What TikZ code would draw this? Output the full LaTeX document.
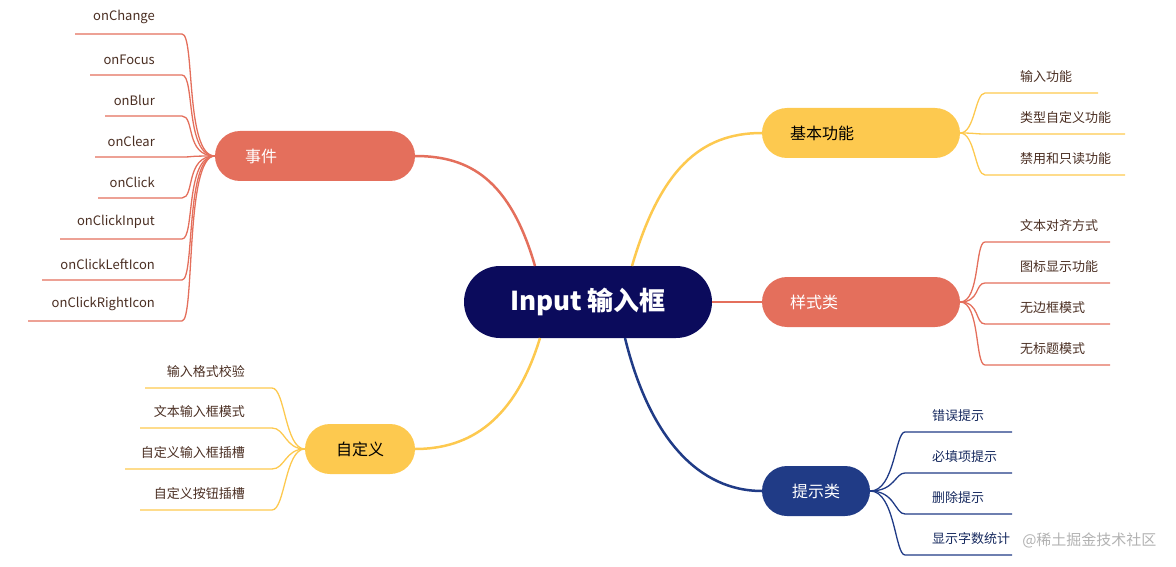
\documentclass[tikz,border=0pt]{standalone}
\usepackage{fontspec}
\setmainfont{Noto Sans CJK SC}
\definecolor{navy}{HTML}{0B0B5C}
\definecolor{sal}{HTML}{E46F5C}
\definecolor{yel}{HTML}{FDC94F}
\definecolor{blu}{HTML}{203B86}
\definecolor{txt}{HTML}{4A2E22}
\begin{document}
\begin{tikzpicture}[x=1pt,y=-1pt,
  box/.style={rounded corners=25pt,minimum height=50pt,inner sep=0pt,font=\fontsize{16}{18}\selectfont},
  leaf/.style={font=\fontsize{13}{15}\selectfont,text=txt,inner sep=0pt},
  mainc/.style={line width=2.5pt},
  leafc/.style={line width=1.3pt}]
\useasboundingbox (0,0) rectangle (1176,567);
\node[box,fill=navy,minimum width=248pt,minimum height=72pt,rounded corners=36pt,text=white,font=\fontsize{26}{28}\selectfont\bfseries] (c) at (588,302) {Input 输入框};
\node[box,fill=sal,minimum width=200pt,text=white,text width=140pt] (ev) at (315,156) {事件};
\node[box,fill=yel,minimum width=198pt,text=black,text width=142pt] (jb) at (861,133) {基本功能};
\node[box,fill=sal,minimum width=198pt,text=white,text width=142pt] (ys) at (861,302) {样式类};
\node[box,fill=blu,minimum width=108pt,text=white] (ts) at (816,491) {提示类};
\node[box,fill=yel,minimum width=110pt,text=black] (zd) at (360,449) {自定义};
\coordinate (c1) at (535,266); \coordinate (c2) at (632,266);
\coordinate (c3) at (625,338); \coordinate (c4) at (540,338);
\draw[mainc,sal] (c1) .. controls (510,180) and (470,156) .. (ev.east);
\draw[mainc,yel] (c2) .. controls (660,170) and (700,133) .. (jb.west);
\draw[mainc,sal] (c.east) -- (ys.west);
\draw[mainc,blu] (c3) .. controls (650,440) and (700,491) .. (ts.west);
\draw[mainc,yel] (c4) .. controls (515,420) and (470,449) .. (zd.east);
% events
\foreach \t/\y/\l [count=\i] in {onChange/34/75,onFocus/75/90,onBlur/116/105,onClear/157/95,onClick/198/98,onClickInput/239/60,onClickLeftIcon/280/42,onClickRightIcon/321/28}{
  \node[leaf,anchor=south east] (e\i) at (155,\y-10) {\t};
  \coordinate (er\i) at (182,\y); \coordinate (el\i) at (\l,\y);
  \draw[leafc,sal] (ev.west) .. controls (185,156) and (195,\y) .. (er\i) -- (el\i);
}
% basic
\foreach \t/\y/\r [count=\i] in {输入功能/93/1098,类型自定义功能/134/1125,禁用和只读功能/175/1125}{
  \node[leaf,anchor=south west] (b\i) at (1020,\y-10) {\t};
  \coordinate (bl\i) at (985,\y); \coordinate (br\i) at (\r,\y);
  \draw[leafc,yel] (jb.east) .. controls (975,133) and (975,\y) .. (bl\i) -- (br\i);
}
% style
\foreach \t/\y [count=\i] in {文本对齐方式/242,图标显示功能/283,无边框模式/324,无标题模式/365}{
  \node[leaf,anchor=south west] (s\i) at (1020,\y-10) {\t};
  \coordinate (sl\i) at (985,\y); \coordinate (sr\i) at (1110,\y);
  \draw[leafc,sal] (ys.east) .. controls (980,302) and (975,\y) .. (sl\i) -- (sr\i);
}
% hints
\foreach \t/\y [count=\i] in {错误提示/432,必填项提示/473,删除提示/514,显示字数统计/555}{
  \node[leaf,anchor=south west,text=blu!70!black] (h\i) at (932,\y-10) {\t};
  \coordinate (hl\i) at (905,\y); \coordinate (hr\i) at (1012,\y);
  \draw[leafc,blu] (ts.east) .. controls (895,491) and (895,\y) .. (hl\i) -- (hr\i);
}
% custom
\foreach \t/\y/\l [count=\i] in {输入格式校验/388/145,文本输入框模式/428/140,自定义输入框插槽/469/125,自定义按钮插槽/510/140}{
  \node[leaf,anchor=south east] (z\i) at (245,\y-10) {\t};
  \coordinate (zr\i) at (272,\y); \coordinate (zl\i) at (\l,\y);
  \draw[leafc,yel] (zd.west) .. controls (285,449) and (285,\y) .. (zr\i) -- (zl\i);
}
\node[font=\fontsize{15}{17}\selectfont,text=gray!60,anchor=east] (wm) at (1160,540) {@稀土掘金技术社区};
\end{tikzpicture}
\end{document}
